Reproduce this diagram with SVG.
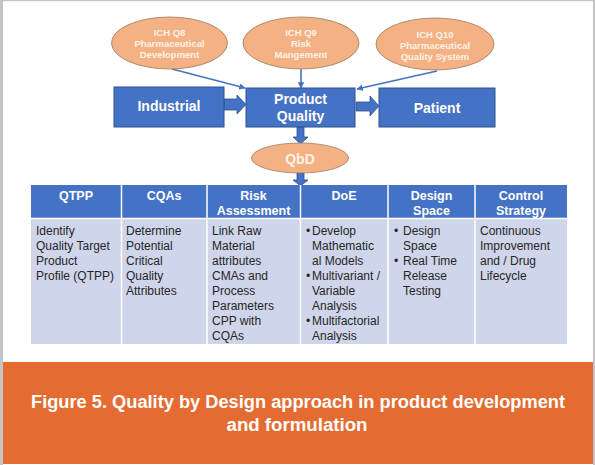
<svg xmlns="http://www.w3.org/2000/svg" width="595" height="465" viewBox="0 0 595 465">
<defs>
<style>
.ell{fill:#f4b183;stroke:#9a7a60;stroke-width:0.8}
.et{font-family:"Liberation Sans",Arial,sans-serif;font-weight:bold;font-size:9.5px;fill:#fdf3e8;text-anchor:middle}
.box{fill:#4472c4;stroke:#2f528f;stroke-width:1}
.bt{font-family:"Liberation Sans",Arial,sans-serif;font-weight:bold;font-size:14px;fill:#ffffff;text-anchor:middle}
.blk{fill:#4472c4;stroke:#2f528f;stroke-width:0.8}
.thin{stroke:#4472c4;stroke-width:1.6;fill:none;marker-end:url(#ah)}
.hd{fill:#4472c4}
.bd{fill:#cfd5ea}
.ht{font-family:"Liberation Sans",Arial,sans-serif;font-weight:bold;font-size:12.5px;fill:#ffffff;text-anchor:middle}
.tt{font-family:"Liberation Sans",Arial,sans-serif;font-size:12px;fill:#262626}
.cap{font-family:"Liberation Sans",Arial,sans-serif;font-weight:bold;font-size:18px;fill:#ffffff;text-anchor:middle}
</style>
<marker id="ah" viewBox="0 0 10 10" refX="9" refY="5" markerWidth="4" markerHeight="4" orient="auto">
<path d="M0,0 L10,5 L0,10 z" fill="#4472c4"/>
</marker>
</defs>
<rect x="0" y="0" width="595" height="465" fill="#ffffff"/>
<rect x="0" y="0" width="3" height="465" fill="#c4c4c4"/>
<rect x="0" y="0" width="595" height="1.2" fill="#c4c4c4"/>
<rect x="593" y="0" width="2" height="465" fill="#c4c4c4"/>

<g id="connectors">
<line class="thin" x1="172" y1="69" x2="245" y2="88"/>
<line class="thin" x1="301" y1="69" x2="301" y2="88"/>
<line class="thin" x1="437" y1="71" x2="357" y2="89"/>
<path class="blk" d="M224,99 L237,99 L237,95 L246,104.5 L237,114 L237,110 L224,110 z"/>
<path class="blk" d="M356,102 L370,102 L370,96 L379,106 L370,116 L370,111 L356,111 z"/>
<path class="blk" d="M297,127 L304,127 L304,137 L308,137 L300.5,144 L293,137 L297,137 z"/>
<path class="blk" d="M297,173 L304,173 L304,180 L308,180 L300.5,186 L293,180 L297,180 z"/>
</g>

<g id="q8">
<ellipse class="ell" cx="169.5" cy="43" rx="58" ry="26"/>
<text class="et" x="169.5" y="36">ICH Q8</text>
<text class="et" x="169.5" y="47">Pharmaceutical</text>
<text class="et" x="169.5" y="58">Development</text>
</g>
<g id="q9">
<ellipse class="ell" cx="301" cy="43" rx="58" ry="26"/>
<text class="et" x="301" y="36">ICH Q9</text>
<text class="et" x="301" y="47">Risk</text>
<text class="et" x="301" y="58">Mangement</text>
</g>
<g id="q10">
<ellipse class="ell" cx="435" cy="44" rx="59" ry="26"/>
<text class="et" x="435" y="37.5">ICH Q10</text>
<text class="et" x="435" y="48.5">Pharmaceutical</text>
<text class="et" x="435" y="60">Quality System</text>
</g>

<g id="industrial">
<rect class="box" x="114" y="87" width="110" height="40"/>
<text class="bt" x="169" y="111">Industrial</text>
</g>
<g id="product-quality">
<rect class="box" x="246" y="88" width="109" height="39"/>
<text class="bt" x="300.5" y="104">Product</text>
<text class="bt" x="300.5" y="121">Quality</text>
</g>
<g id="patient">
<rect class="box" x="379" y="88" width="116" height="39"/>
<text class="bt" x="437" y="112.5">Patient</text>
</g>

<g id="qbd">
<ellipse class="ell" cx="300" cy="158" rx="48.5" ry="15"/>
<text class="bt" x="300" y="164" style="fill:#fdf3e8">QbD</text>
</g>

<g id="table">
<rect class="hd" x="31" y="185" width="536" height="33"/>
<rect class="bd" x="31" y="219" width="536" height="125"/>
<g stroke="#ffffff" stroke-width="1.5">
<line x1="121.5" y1="185" x2="121.5" y2="344"/>
<line x1="207" y1="185" x2="207" y2="344"/>
<line x1="300.5" y1="185" x2="300.5" y2="344"/>
<line x1="388" y1="185" x2="388" y2="344"/>
<line x1="475" y1="185" x2="475" y2="344"/>
<line x1="31" y1="218.5" x2="567" y2="218.5"/>
</g>
</g>

<g id="col-qtpp">
<text class="ht" x="76" y="199.5">QTPP</text>
<text class="tt" x="36"><tspan x="36" y="235">Identify</tspan><tspan x="36" y="250">Quality Target</tspan><tspan x="36" y="265">Product</tspan><tspan x="36" y="280">Profile (QTPP)</tspan></text>
</g>
<g id="col-cqas">
<text class="ht" x="164" y="199.5">CQAs</text>
<text class="tt" x="126"><tspan x="126" y="235">Determine</tspan><tspan x="126" y="250">Potential</tspan><tspan x="126" y="265">Critical</tspan><tspan x="126" y="280">Quality</tspan><tspan x="126" y="295">Attributes</tspan></text>
</g>
<g id="col-risk">
<text class="ht" x="253.5" y="199.5">Risk</text>
<text class="ht" x="253.5" y="214.5">Assessment</text>
<text class="tt" x="212"><tspan x="212" y="235">Link Raw</tspan><tspan x="212" y="250">Material</tspan><tspan x="212" y="265">attributes</tspan><tspan x="212" y="280">CMAs and</tspan><tspan x="212" y="295">Process</tspan><tspan x="212" y="310">Parameters</tspan><tspan x="212" y="325">CPP with</tspan><tspan x="212" y="340">CQAs</tspan></text>
</g>
<g id="col-doe">
<text class="ht" x="344" y="199.5">DoE</text>
<text class="tt"><tspan x="306" y="235">•</tspan><tspan x="312" y="235">Develop</tspan><tspan x="312" y="250">Mathematic</tspan><tspan x="312" y="265">al Models</tspan><tspan x="306" y="280">•</tspan><tspan x="312" y="280">Multivariant /</tspan><tspan x="312" y="295">Variable</tspan><tspan x="312" y="310">Analysis</tspan><tspan x="306" y="325">•</tspan><tspan x="312" y="325">Multifactorial</tspan><tspan x="312" y="340">Analysis</tspan></text>
</g>
<g id="col-design-space">
<text class="ht" x="431.5" y="199.5">Design</text>
<text class="ht" x="431.5" y="214.5">Space</text>
<text class="tt"><tspan x="394" y="235">•</tspan><tspan x="403" y="235">Design</tspan><tspan x="403" y="250">Space</tspan><tspan x="394" y="265">•</tspan><tspan x="403" y="265">Real Time</tspan><tspan x="403" y="280">Release</tspan><tspan x="403" y="295">Testing</tspan></text>
</g>
<g id="col-control">
<text class="ht" x="521" y="199.5">Control</text>
<text class="ht" x="521" y="214.5">Strategy</text>
<text class="tt"><tspan x="480" y="235">Continuous</tspan><tspan x="480" y="250">Improvement</tspan><tspan x="480" y="265">and / Drug</tspan><tspan x="480" y="280">Lifecycle</tspan></text>
</g>

<g id="caption">
<rect x="3" y="362" width="590" height="102" fill="#e46c32"/>
<text class="cap" x="298" y="408" textLength="534" lengthAdjust="spacingAndGlyphs">Figure 5. Quality by Design approach in product development</text>
<text class="cap" x="297" y="431" textLength="141" lengthAdjust="spacingAndGlyphs">and formulation</text>
</g>
</svg>
